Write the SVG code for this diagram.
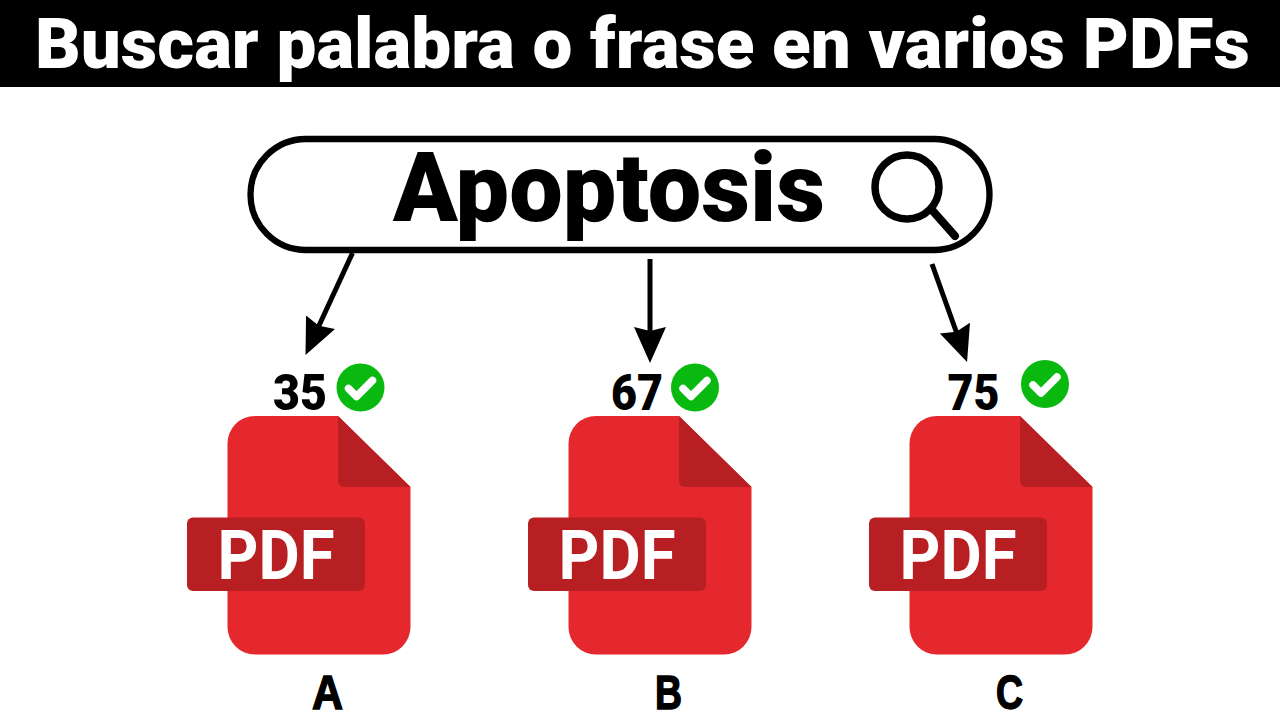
<svg xmlns="http://www.w3.org/2000/svg" width="1280" height="720" viewBox="0 0 1280 720">
<defs>
<marker id="ah" markerUnits="userSpaceOnUse" markerWidth="38" markerHeight="34" refX="10" refY="16" orient="auto"><path d="M0 0L36 16L0 32L4 16z" fill="#000"/></marker>
<g id="pdf">
<path d="M255 416H338L410.500 487V627a27.500 27.500 0 0 1-27.500 27.500H255a27.500 27.500 0 0 1-27.500-27.500V443.500a27.500 27.500 0 0 1 27.500-27.500z" fill="#e5282e"/>
<path d="M338 416L410.500 487H344a6 6 0 0 1-6-6z" fill="#b71f23"/>
<rect x="187" y="517.500" width="178" height="73.500" rx="6" fill="#b71f23"/>
<text x="276" y="579" class="p" textLength="117" lengthAdjust="spacingAndGlyphs">PDF</text>
</g>
<g id="chk">
<circle cx="0" cy="0" r="24" fill="#0ab90f"/>
<path d="M-12 1L-4 9L12-7" fill="none" stroke="#fff" stroke-width="7.500" stroke-linecap="round" stroke-linejoin="round"/>
</g>
</defs>
<style>
text{font-family:"Roboto","Inter","Liberation Sans",sans-serif;text-anchor:middle;font-weight:900}
.p{font-size:69px;fill:#fff;font-weight:700}
.n{font-size:50px;fill:#000}
.l{font-family:"Liberation Sans",Arial,sans-serif;font-weight:700;font-size:48px;fill:#000;stroke:#000;stroke-width:1.500px}
.c{stroke:#000;stroke-width:5;fill:none;marker-end:url(#ah)}
</style>
<g id="title"><rect width="1280" height="87" fill="#000"/><text x="642.500" y="68" font-size="70" fill="#fff" font-weight="700" textLength="1215" lengthAdjust="spacingAndGlyphs">Buscar palabra o frase en varios PDFs</text></g>
<g id="search"><rect x="250.500" y="139" width="739" height="111" rx="55.500" fill="#fff" stroke="#000" stroke-width="6.300"/>
<text x="609" y="221" font-size="97" fill="#000" textLength="432" lengthAdjust="spacingAndGlyphs">Apoptosis</text>
<circle cx="907" cy="187" r="32" fill="none" stroke="#000" stroke-width="7.500"/>
<path d="M932 210L955 236" stroke="#000" stroke-width="8" stroke-linecap="round"/></g>
<g id="connectors">
<path class="c" d="M352.500 253L316.400 331.300"/>
<path class="c" d="M650 259V337"/>
<path class="c" d="M932 264L958.300 337.500"/>
</g>
<g id="nodeA"><use href="#pdf"/><text class="n" x="300" y="410" textLength="54" lengthAdjust="spacingAndGlyphs">35</text><use href="#chk" x="360.500" y="387.500"/><text class="l" x="327.500" y="709" textLength="31" lengthAdjust="spacingAndGlyphs">A</text></g>
<g id="nodeB"><use href="#pdf" x="341"/><text class="n" x="637" y="410" textLength="52" lengthAdjust="spacingAndGlyphs">67</text><use href="#chk" x="695" y="387.500"/><text class="l" x="668.500" y="709" textLength="27" lengthAdjust="spacingAndGlyphs">B</text></g>
<g id="nodeC"><use href="#pdf" x="682"/><text class="n" x="973.500" y="410" textLength="52" lengthAdjust="spacingAndGlyphs">75</text><use href="#chk" x="1045" y="384"/><text class="l" x="1009.500" y="709" textLength="27" lengthAdjust="spacingAndGlyphs">C</text></g>
</svg>
